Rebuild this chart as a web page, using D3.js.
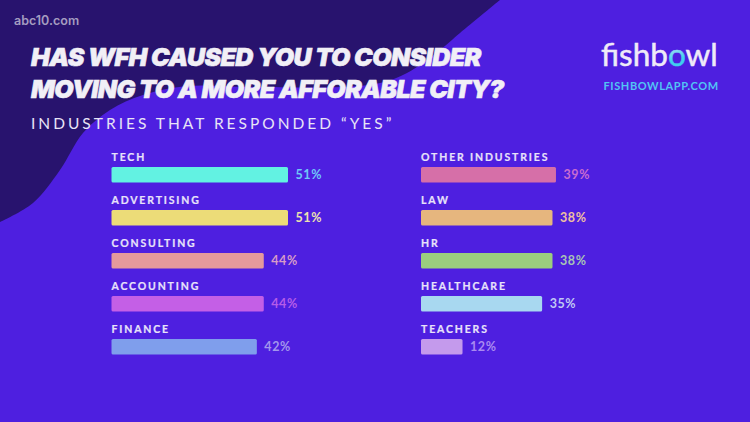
<!DOCTYPE html>
<html>
<head>
<meta charset="utf-8">
<script src="https://cdn.jsdelivr.net/npm/d3@7"></script>
<style>
  html, body { margin: 0; padding: 0; background: #4e1fe0; overflow: hidden; }
</style>
</head>
<body>
<div class="canvas"></div>
<script>
const leftNames = ['TECH', 'ADVERTISING', 'CONSULTING', 'ACCOUNTING', 'FINANCE'];
const leftValues = [51, 51, 44, 44, 42];
const leftColors = ['#62f2e2', '#ecdc78', '#e59a9c', '#c45fe6', '#7f9eec'];
const leftLabelColors = ['#6fc8f8', '#ece2b0', '#d79ac8', '#b45ce8', '#a296ec'];

const rightNames = ['OTHER INDUSTRIES', 'LAW', 'HR', 'HEALTHCARE', 'TEACHERS'];
const rightValues = [39, 38, 38, 35, 12];
const rightColors = ['#d66fa8', '#e6b67e', '#9bce7e', '#a8d8f0', '#c49aec'];
const rightLabelColors = ['#c86cd0', '#eec0a0', '#a8c4b4', '#c0c8f4', '#a98af0'];

const blobOutline = [[500, 0], [460, 33], [440, 50], [407, 73], [380, 83], [340, 87], [250, 87], [187, 86], [143, 95], [110, 110], [83, 133], [60, 170], [33, 203], [0, 222]];

const svg = d3.select('.canvas')
  .append('svg')
  .attr('width', 750)
  .attr('height', 422)
  .attr('font-family', 'Lato, "Open Sans", sans-serif');

const defs = svg.append('defs');
const logoGrad = defs.append('linearGradient')
  .attr('id', 'logo-o')
  .attr('x1', 0).attr('y1', 0)
  .attr('x2', 1).attr('y2', 1);
logoGrad.append('stop').attr('offset', '35%').attr('stop-color', '#efeaf8');
logoGrad.append('stop').attr('offset', '65%').attr('stop-color', '#3fd0ee');

svg.append('rect')
  .attr('width', 750)
  .attr('height', 422)
  .attr('fill', '#4e1fe0');

const blobLine = d3.line().curve(d3.curveCatmullRom);
svg.append('path')
  .attr('fill', '#28136e')
  .attr('d', blobLine(blobOutline) + ' L 0 0 Z');

svg.append('text')
  .attr('x', 14)
  .attr('y', 25)
  .attr('fill', '#a49cc0')
  .attr('font-family', 'Inter')
  .attr('font-size', 12.5)
  .attr('font-weight', 600)
  .text('abc10.com');

const titleLines = ['HAS WFH CAUSED YOU TO CONSIDER', 'MOVING TO A MORE AFFORABLE CITY?'];
svg.selectAll('.title')
  .data(titleLines)
  .join('text')
  .attr('class', 'title')
  .attr('x', 31)
  .attr('y', (d, i) => 66 + i * 32)
  .attr('fill', '#f1eff6')
  .attr('stroke', '#f1eff6')
  .attr('stroke-width', 0.6)
  .attr('font-family', 'Inter')
  .attr('font-size', 25)
  .attr('font-weight', 900)
  .attr('font-style', 'italic')
  .attr('letter-spacing', -0.62)
  .text(d => d);

svg.append('text')
  .attr('x', 31)
  .attr('y', 129)
  .attr('fill', '#e8e4f6')
  .attr('font-size', 15.5)
  .attr('letter-spacing', 3)
  .text('INDUSTRIES THAT RESPONDED \u201CYES\u201D');

// logo
const logo = svg.append('text')
  .attr('x', 601)
  .attr('y', 66)
  .attr('fill', '#efeaf8')
  .attr('stroke', '#efeaf8')
  .attr('stroke-width', 0.5)
  .attr('font-size', 31.5);
logo.append('tspan').text('fishb');
logo.append('tspan').attr('fill', 'url(#logo-o)').attr('stroke', 'url(#logo-o)').text('o');
logo.append('tspan').text('wl');

svg.append('text')
  .attr('x', 603.5)
  .attr('y', 90)
  .attr('fill', '#52c4f4')
  .attr('font-size', 11)
  .attr('font-weight', 700)
  .attr('letter-spacing', 0.6)
  .text('FISHBOWLAPP.COM');

const x = d3.scaleLinear().domain([0, 51]).range([0, 176.5]);

function drawColumn(names, values, colors, labelColors, left) {
  const y = d3.scaleBand().domain(names).range([146, 361]).paddingInner(0).paddingOuter(0);
  const g = svg.append('g').attr('transform', `translate(${left},0)`);

  const row = g.selectAll('g')
    .data(names)
    .join('g')
    .attr('transform', d => `translate(0,${y(d)})`);

  row.append('text')
    .attr('y', 15)
    .attr('fill', '#e8e2fa')
    .attr('stroke', '#e8e2fa')
    .attr('stroke-width', 0.2)
    .attr('font-size', 10.5)
    .attr('font-weight', 700)
    .attr('letter-spacing', 1.85)
    .text(d => d);

  row.append('rect')
    .attr('y', 21)
    .attr('width', (d, i) => x(values[i]))
    .attr('height', 15.5)
    .attr('rx', 1.5)
    .attr('fill', (d, i) => colors[i]);

  row.append('text')
    .attr('x', (d, i) => x(values[i]) + 7.5)
    .attr('y', 33)
    .attr('fill', (d, i) => labelColors[i])
    .attr('font-size', 12.5)
    .attr('font-weight', 700)
    .attr('letter-spacing', 0.6)
    .text((d, i) => values[i] + '%');
}

drawColumn(leftNames, leftValues, leftColors, leftLabelColors, 111.5);
drawColumn(rightNames, rightValues, rightColors, rightLabelColors, 421);
</script>
</body>
</html>
